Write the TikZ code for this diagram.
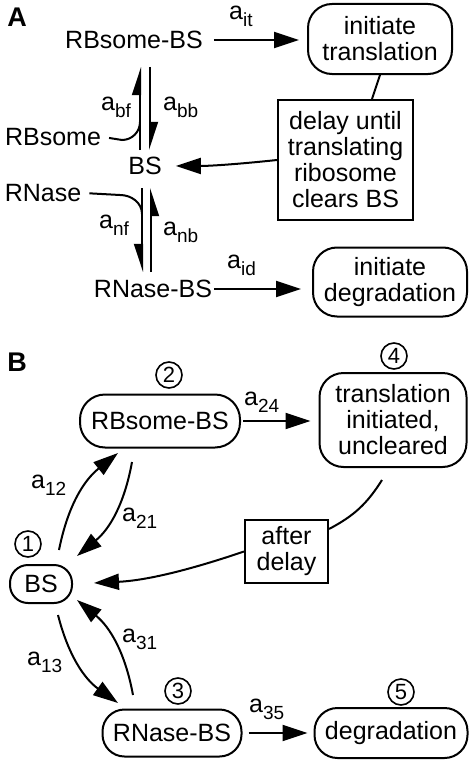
\documentclass[tikz,border=0pt]{standalone}
\usepackage{fontspec}
\setmainfont{Liberation Sans}
\usetikzlibrary{arrows.meta,calc}
\newcommand{\ratelbl}[1]{a\raisebox{-7pt}{\fontsize{19}{19}\selectfont #1}}
\begin{document}
\begin{tikzpicture}[x=1pt,y=-1pt,
  txt/.style={font=\fontsize{25}{26}\selectfont, inner sep=2pt, align=center},
  lbl/.style={font=\fontsize{25}{26}\selectfont, inner sep=0pt, anchor=base west},
  panel/.style={font=\fontsize{27}{27}\selectfont\bfseries, inner sep=0pt},
  rbox/.style={txt, draw, line width=2pt, rounded corners=24pt},
  sbox/.style={txt, draw, line width=2pt},
  num/.style={circle, draw, line width=1.6pt, minimum size=26pt, inner sep=0pt, font=\fontsize{22}{22}\selectfont},
  conn/.style={line width=2pt},
  arr/.style={conn, -{Triangle[length=25pt,width=16pt]}},
  harp/.style={conn, -{Triangle[harpoon,length=25pt,width=16pt]}},
  harps/.style={conn, -{Triangle[harpoon,swap,length=25pt,width=16pt]}}
]
\useasboundingbox (0,0) rectangle (474,760);

% ---------------- Panel A ----------------
\node[panel] (Alabel) at (17,17) {A};
\node[txt] (rbbs) at (134,40) {RBsome-BS};
\node[rbox, minimum width=144pt, minimum height=70pt] (init) at (380,39) {initiate\\translation};
\node[sbox, minimum width=135pt, minimum height=120pt] (delay) at (345.5,160) {delay until\\translating\\ribosome\\clears BS};
\node[txt] (bs) at (145,166) {BS};
\node[txt] (rbsome) at (53,137) {RBsome};
\node[txt] (rnase) at (43,193) {RNase};
\node[txt] (rnbs) at (153,289) {RNase-BS};
\node[rbox, minimum width=154pt, minimum height=69pt] (initdeg) at (390,282) {initiate\\degradation};

\draw[arr, shorten <=9pt, shorten >=8pt] (rbbs.east) -- (rbbs.east -| init.west);
\node[lbl] (lit) at (229,20) {\ratelbl{it}};

\draw[conn] (init.south) -- ($(delay.north)+(26.5,0)$);
\draw[arr, shorten >=12pt] (delay.west) to[bend left=3] (bs.east);

% equilibrium RBsome-BS <-> BS
\coordinate (e1b) at (140,150);
\coordinate (e1t) at (140,67);
\coordinate (e2t) at (150,67);
\coordinate (e2b) at (150,150);
\draw[harp] (e1b) -- (e1t);
\draw[harp] (e2t) -- (e2b);
\coordinate (j1) at (140,122);
\draw[conn, shorten <=6pt] (rbsome.east) -- (122,140) to[out=0,in=-90] (j1);
\node[lbl] (lbf) at (101,110) {\ratelbl{bf}};
\node[lbl] (lbb) at (163,110) {\ratelbl{bb}};

% equilibrium BS <-> RNase-BS
\coordinate (e3t) at (142,188);
\coordinate (e3b) at (142,272);
\coordinate (e4b) at (151,272);
\coordinate (e4t) at (151,188);
\draw[harps] (e3t) -- (e3b);
\draw[harps] (e4b) -- (e4t);
\coordinate (j2) at (142,214);
\draw[conn, shorten <=6pt] (rnase.east) -- (120,195) to[out=0,in=90] (j2);
\node[lbl] (lnf) at (99,228) {\ratelbl{nf}};
\node[lbl] (lnb) at (163,235) {\ratelbl{nb}};

\draw[arr, shorten >=11pt] (rnbs.east) -- (rnbs.east -| initdeg.west);
\node[lbl] (lid) at (227,268) {\ratelbl{id}};

% ---------------- Panel B ----------------
\node[panel] (Blabel) at (17,362) {B};
\node[num] (n2) at (169,375) {2};
\node[rbox, minimum width=160pt, minimum height=53pt, rounded corners=25pt] (b2) at (160,421) {RBsome-BS};
\node[num] (n4) at (394,356) {4};
\node[rbox, minimum width=147pt, minimum height=94pt] (b4) at (393,420) {translation\\initiated,\\uncleared};
\node[num] (n1) at (28,544) {1};
\node[rbox, minimum width=62pt, minimum height=38pt, rounded corners=18pt] (b1) at (41,584) {BS};
\node[sbox, minimum width=83pt, minimum height=63pt] (after) at (286.5,551.5) {after\\delay};
\node[num] (n3) at (178,691) {3};
\node[rbox, minimum width=139pt, minimum height=47pt, rounded corners=22pt] (b3) at (172,733) {RNase-BS};
\node[num] (n5) at (401,692) {5};
\node[rbox, minimum width=153pt, minimum height=50pt, rounded corners=23pt] (b5) at (391,733) {degradation};

\coordinate (c12s) at (59,550);
\coordinate (c12e) at (118,453);
\coordinate (c21s) at (132,462);
\coordinate (c21e) at (77,556);
\coordinate (c13s) at (58,615);
\coordinate (c13e) at (118,703);
\coordinate (c31s) at (133,695);
\coordinate (c31e) at (77,600);
\coordinate (c4s) at (382,480);

\draw[arr] (c12s) to[bend left=20] (c12e);
\draw[arr] (c21s) to[bend left=20] (c21e);
\draw[arr] (c13s) to[bend right=20] (c13e);
\draw[arr] (c31s) to[bend right=20] (c31e);
\node[lbl] (l12) at (31,488) {\ratelbl{12}};
\node[lbl] (l21) at (122,521) {\ratelbl{21}};
\node[lbl] (l13) at (27,665) {\ratelbl{13}};
\node[lbl] (l31) at (122,642) {\ratelbl{31}};

\draw[arr, shorten <=2pt, shorten >=8pt] (b2.east) -- (b2.east -| b4.west);
\node[lbl] (l24) at (244,405) {\ratelbl{24}};
\draw[conn] (c4s) to[bend left=15] ($(after.north east)+(0,10)$);
\draw[arr, shorten >=21pt] (after.west) to[bend left=8] (b1.east);

\draw[arr, shorten <=6pt, shorten >=6pt] (b3.east) -- (b5.west);
\node[lbl] (l35) at (249,712) {\ratelbl{35}};
\end{tikzpicture}
\end{document}
